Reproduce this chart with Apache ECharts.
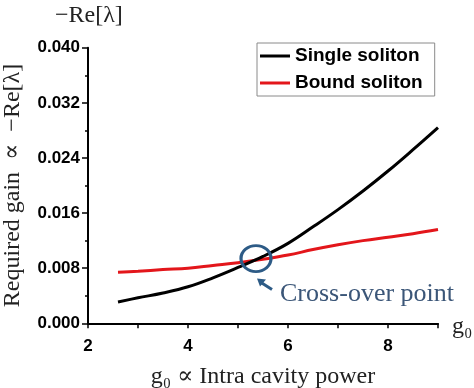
<!DOCTYPE html>
<html>
<head>
<meta charset="utf-8">
<script src="https://cdn.jsdelivr.net/npm/echarts@6/dist/echarts.min.js"></script>
<style>html,body{margin:0;padding:0;background:#fff}#c{width:474px;height:388px}</style>
</head>
<body>
<div id="c"></div>
<script>
const gValues = [2.6, 3.0, 3.5, 4.0, 4.5, 5.0, 5.5, 6.0, 6.5, 7.0, 7.5, 8.0, 8.5, 9.0];
const singleSoliton = [0.0031, 0.0037, 0.0044, 0.0053, 0.0066, 0.0081, 0.0097, 0.0116, 0.0140, 0.0165, 0.0192, 0.0221, 0.0252, 0.0284];
const boundSoliton = [0.0074, 0.00755, 0.0078, 0.0080, 0.0084, 0.0088, 0.0093, 0.0099, 0.0107, 0.0114, 0.0120, 0.0125, 0.0130, 0.0136];
const crossover = [5.36, 0.0094];
const seriesNames = ['Single soliton', 'Bound soliton'];

const serif = '"Liberation Serif", "DejaVu Serif", serif';
const sans = '"Liberation Sans", Arial, sans-serif';
const annColor = '#2d5b86';

const chart = echarts.init(document.getElementById('c'), null, {renderer: 'canvas'});
const pair = (ys) => gValues.map((x, i) => [x, ys[i]]);

chart.setOption({
  animation: false,
  backgroundColor: '#fff',
  grid: {left: 88, right: 36, top: 47.7, bottom: 64.7, containLabel: false, outerBoundsMode: 'none'},
  legend: {
    orient: 'vertical',
    left: 257, top: 43,
    padding: [3, 12, 3, 3],
    itemGap: 7,
    itemWidth: 30, itemHeight: 3,
    borderColor: '#8a8a8a', borderWidth: 1,
    icon: 'rect',
    textStyle: {fontFamily: sans, fontWeight: 'bold', fontSize: 19, color: '#000', lineHeight: 20},
    data: seriesNames
  },
  xAxis: {
    type: 'value', min: 2, max: 9, interval: 1,
    name: 'g₀ ∝ Intra cavity power', nameLocation: 'middle', nameGap: 41,
    nameTextStyle: {fontFamily: serif, fontSize: 24, color: '#222'},
    axisLine: {lineStyle: {color: '#000', width: 2}},
    axisTick: {inside: false, length: 5, lineStyle: {color: '#000', width: 1.5}},
    axisLabel: {fontFamily: sans, fontWeight: 'bold', fontSize: 17, color: '#000', margin: 15,
      formatter: v => (v % 2 === 0 ? String(v) : '')},
    splitLine: {show: false}
  },
  yAxis: {
    type: 'value', min: 0, max: 0.04, interval: 0.008,
    name: 'Required gain  ∝  −Re[λ]', nameLocation: 'middle', nameGap: 63, nameRotate: 90,
    nameTextStyle: {fontFamily: serif, fontSize: 24, color: '#222'},
    axisLine: {show: true, lineStyle: {color: '#000', width: 2}},
    axisTick: {show: true, inside: false, length: 6, lineStyle: {color: '#000', width: 1.5}},
    minorTick: {show: true, splitNumber: 2, length: 3, lineStyle: {color: '#000', width: 1.5}},
    axisLabel: {fontFamily: sans, fontWeight: 'bold', fontSize: 17, color: '#000', margin: 8,
      formatter: v => v.toFixed(3)},
    splitLine: {show: false}
  },
  series: [
    {name: seriesNames[0], type: 'line', smooth: 0.4, symbol: 'none', data: pair(singleSoliton),
     lineStyle: {color: '#000', width: 3}, itemStyle: {color: '#000'}, z: 3},
    {name: seriesNames[1], type: 'line', smooth: 0.4, symbol: 'none', data: pair(boundSoliton),
     lineStyle: {color: '#e3161b', width: 3}, itemStyle: {color: '#e3161b'}, z: 2,
     markPoint: {
       silent: true,
       symbol: 'circle', symbolSize: [30, 26],
       itemStyle: {color: 'rgba(0,0,0,0)', borderColor: annColor, borderWidth: 3},
       label: {show: false},
       data: [{coord: crossover}]
     }}
  ]
});

const p = chart.convertToPixel({gridIndex: 0}, crossover);
const origin = chart.convertToPixel({gridIndex: 0}, [9, 0]);
chart.setOption({
  graphic: [
    {type: 'text', left: 55, top: 4, style: {text: '−Re[λ]', font: '24px ' + serif, fill: '#222'}},
    {type: 'text', x: origin[0] + 14, y: origin[1] + 3, style: {text: 'g₀', font: '24px ' + serif, fill: '#222', textVerticalAlign: 'middle'}},
    {type: 'line', shape: {x1: p[0] + 16, y1: p[1] + 31, x2: p[0] + 5, y2: p[1] + 24}, style: {stroke: annColor, lineWidth: 3}},
    {type: 'polygon', shape: {points: [[p[0] + 1, p[1] + 20], [p[0] + 10, p[1] + 21], [p[0] + 4, p[1] + 28]]}, style: {fill: annColor}},
    {type: 'text', x: p[0] + 24, y: p[1] + 36, style: {text: 'Cross-over point', font: '26px ' + serif, fill: '#3b5678', textVerticalAlign: 'middle'}}
  ]
});
</script>
</body>
</html>
